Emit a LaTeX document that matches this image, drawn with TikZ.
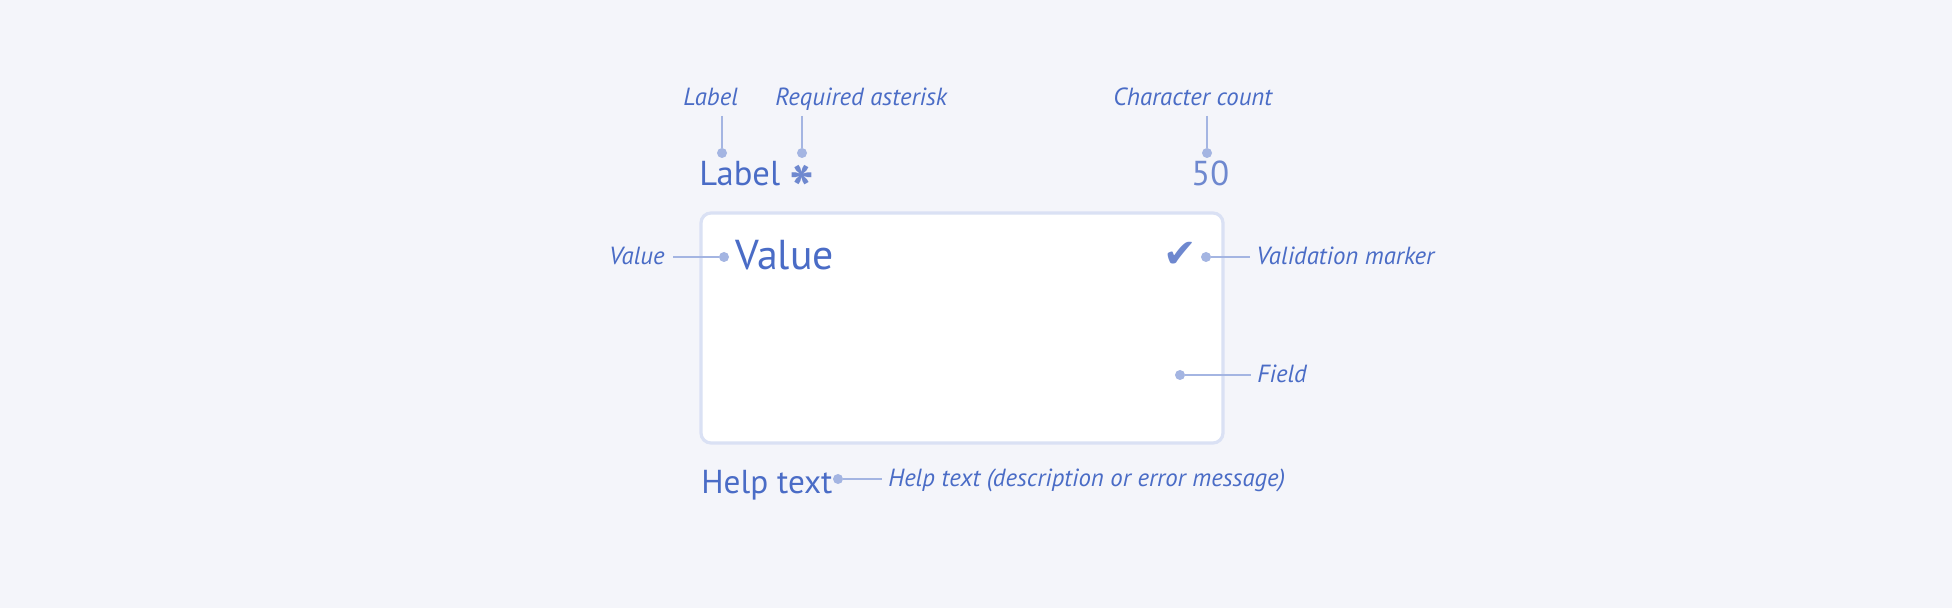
\documentclass[tikz,border=0pt]{standalone}
\usepackage{fontspec}
\setmainfont{PT Sans}
\newfontfamily\symf{DejaVu Sans}
\definecolor{bg}{HTML}{F4F5FA}
\definecolor{txt}{HTML}{4A6CC6}
\definecolor{soft}{HTML}{6E88CF}
\definecolor{lead}{HTML}{A4B5E2}
\definecolor{border}{HTML}{DAE1F4}
\tikzset{
  ann/.style={inner sep=0pt, text=txt, font=\fontsize{12.4}{14}\selectfont\itshape, anchor=base west},
  big/.style={inner sep=0pt, text=txt, font=\fontsize{17.3}{20}\selectfont, anchor=base west},
  dotmark/.style={circle, fill=lead, inner sep=0pt, minimum size=5pt},
  leader/.style={draw=lead, line width=0.75pt},
}
\begin{document}
\begin{tikzpicture}[x=0.5pt,y=-0.5pt]
\fill[bg] (0,0) rectangle (1952,608);
\useasboundingbox (0,0) rectangle (1952,608);
% field
\draw[border, fill=white, line width=1.6pt, rounded corners=5pt] (701,213) rectangle (1223,443);
\node[big, font=\fontsize{20.9}{24}\selectfont] (value) at (735,270) {Value};
\node[inner sep=0pt, anchor=north, text=soft, font=\symf\fontsize{20}{22}\selectfont] (check) at (1180,242) {✔};
% label row
\node[big] (label) at (699,186) {Label};
\node[inner sep=0pt, anchor=north, text=soft, font=\fontsize{33}{35}\selectfont\bfseries] (ast) at (802,165) {*};
\node[big, text=soft] (count) at (1191,186) {50};
\node[big, font=\fontsize{16.6}{20}\selectfont] (help) at (701,494) {Help text};
% annotations
\node[ann] (aLabel) at (683,106) {Label};
\node[ann] (aAst) at (775,106) {Required asterisk};
\node[ann] (aCount) at (1113,106) {Character count};
\node[ann, anchor=base east] (aValue) at (665,265) {Value};
\node[ann] (aValid) at (1256,265) {Validation marker};
\node[ann] (aField) at (1257,383) {Field};
\node[ann] (aHelp) at (888,487) {Help text (description or error message)};
% dots
\node[dotmark] (dLabel) at (722,153) {};
\node[dotmark] (dAst) at (802,153) {};
\node[dotmark] (dCount) at (1207,153) {};
\node[dotmark] (dValue) at (724,257) {};
\node[dotmark] (dValid) at (1206,257) {};
\node[dotmark] (dField) at (1180,375) {};
\node[dotmark] (dHelp) at (838,479) {};
% free ends
\coordinate (eLabel) at (722,116);
\coordinate (eAst) at (802,116);
\coordinate (eCount) at (1207,116);
\coordinate (eValue) at (673,257);
\coordinate (eValid) at (1250,257);
\coordinate (eField) at (1251,375);
\coordinate (eHelp) at (882,479);
\draw[leader] (eLabel) -- (dLabel);
\draw[leader] (eAst) -- (dAst);
\draw[leader] (eCount) -- (dCount);
\draw[leader] (eValue) -- (dValue);
\draw[leader] (dValid) -- (eValid);
\draw[leader] (dField) -- (eField);
\draw[leader] (dHelp) -- (eHelp);
\end{tikzpicture}
\end{document}
